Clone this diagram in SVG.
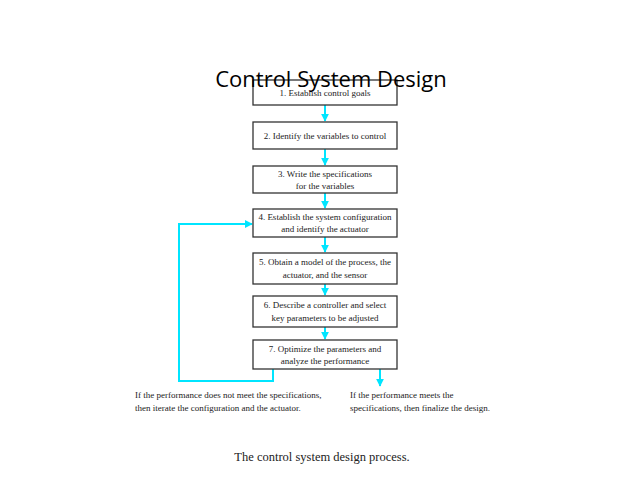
<svg xmlns="http://www.w3.org/2000/svg" width="638" height="478" viewBox="0 0 638 478">
<defs><marker id="a" viewBox="0 0 10 10" refX="9" refY="5" markerWidth="4" markerHeight="4" orient="auto"><path d="M0,0L10,5L0,10z" fill="#00e5ff"/></marker></defs>
<style>
.b{fill:#fff;stroke:#333;stroke-width:1.3}
.t{font-family:"Liberation Serif",serif;font-size:9px;fill:#222;text-anchor:middle}
.c{stroke:#00e5ff;stroke-width:2;fill:none;marker-end:url(#a)}
</style>
<rect width="638" height="478" fill="#fff"/>
<g id="connectors">
<path class="c" d="M325,105V121"/>
<path class="c" d="M325,149V165"/>
<path class="c" d="M325,193V208"/>
<path class="c" d="M325,237V252"/>
<path class="c" d="M325,284V295"/>
<path class="c" d="M325,327V339"/>
<path class="c" d="M273,369V381H179V224H252"/>
<path class="c" d="M380,369V386"/>
</g>
<g id="n1"><rect class="b" x="253" y="80" width="144" height="25"/><text class="t" x="325" y="96">1. Establish control goals</text></g>
<g id="n2"><rect class="b" x="253" y="122" width="144" height="27"/><text class="t" x="325" y="139">2. Identify the variables to control</text></g>
<g id="n3"><rect class="b" x="253" y="166" width="144" height="27"/><text class="t" x="325" y="177">3. Write the specifications</text><text class="t" x="325" y="189">for the variables</text></g>
<g id="n4"><rect class="b" x="253" y="209" width="144" height="28"/><text class="t" x="325" y="220">4. Establish the system configuration</text><text class="t" x="325" y="232">and identify the actuator</text></g>
<g id="n5"><rect class="b" x="253" y="253" width="144" height="31"/><text class="t" x="325" y="265">5. Obtain a model of the process, the</text><text class="t" x="325" y="278">actuator, and the sensor</text></g>
<g id="n6"><rect class="b" x="253" y="296" width="144" height="31"/><text class="t" x="325" y="308">6. Describe a controller and select</text><text class="t" x="325" y="321">key parameters to be adjusted</text></g>
<g id="n7"><rect class="b" x="253" y="340" width="144" height="29"/><text class="t" x="325" y="352">7. Optimize the parameters and</text><text class="t" x="325" y="364">analyze the performance</text></g>
<g id="labels" font-family="Liberation Serif,serif" font-size="9" fill="#222">
<text x="135" y="398">If the performance does not meet the specifications,</text>
<text x="135" y="411">then iterate the configuration and the actuator.</text>
<text x="350" y="398">If the performance meets the</text>
<text x="350" y="411">specifications, then finalize the design.</text>
<text x="322" y="461" font-size="12.5" text-anchor="middle">The control system design process.</text>
</g>
<text x="331" y="87" font-family="Open Sans,sans-serif" font-size="22" text-anchor="middle" fill="#000">Control System Design</text>
</svg>
